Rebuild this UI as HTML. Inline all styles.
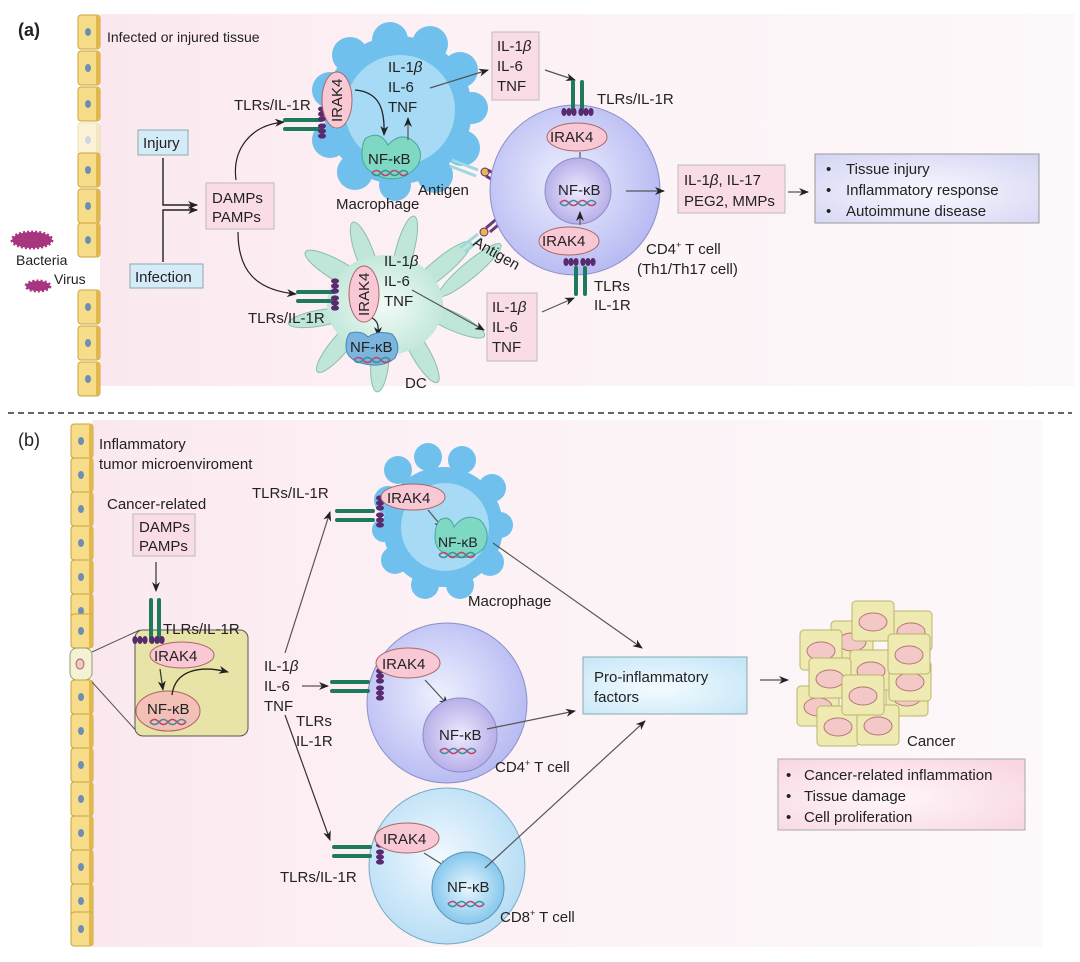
<!DOCTYPE html>
<html><head><meta charset="utf-8"><style>
html,body{margin:0;padding:0;background:#fff}
svg{display:block}
text{font-family:"Liberation Sans",Arial,sans-serif;fill:#222}
</style></head><body>
<svg width="1080" height="962" viewBox="0 0 1080 962" xmlns="http://www.w3.org/2000/svg">
<defs>
<marker id="ah" markerWidth="10" markerHeight="8" refX="9" refY="4" orient="auto" markerUnits="userSpaceOnUse"><path d="M0,0 L10,4 L0,8 L3,4z" fill="#222"/></marker>
<radialGradient id="mac" cx="50%" cy="45%" r="55%"><stop offset="0" stop-color="#e8f6fd"/><stop offset="1" stop-color="#5fb8ea"/></radialGradient>
<radialGradient id="cd4" cx="45%" cy="45%" r="55%"><stop offset="0" stop-color="#eef0ff"/><stop offset="1" stop-color="#b9bcf2"/></radialGradient>
<radialGradient id="cd8" cx="45%" cy="45%" r="55%"><stop offset="0" stop-color="#f2f9ff"/><stop offset="1" stop-color="#b8def5"/></radialGradient>
<radialGradient id="nuc4" cx="50%" cy="50%" r="55%"><stop offset="0" stop-color="#eeeaff"/><stop offset="1" stop-color="#b3a9e6"/></radialGradient>
<radialGradient id="nuc8" cx="50%" cy="50%" r="55%"><stop offset="0" stop-color="#e9f6ff"/><stop offset="1" stop-color="#7cc3ea"/></radialGradient>
<radialGradient id="dc" cx="50%" cy="50%" r="55%"><stop offset="0" stop-color="#f2fbf7"/><stop offset="1" stop-color="#bfe6d8"/></radialGradient>
<linearGradient id="pinkbg" x1="0" x2="1"><stop offset="0" stop-color="#fbe8ef"/><stop offset="0.35" stop-color="#fcf1f5"/><stop offset="1" stop-color="#fdf8fa"/></linearGradient>
<radialGradient id="pinkbox" cx="45%" cy="55%" r="70%"><stop offset="0" stop-color="#fff7fa"/><stop offset="1" stop-color="#f8d6e2"/></radialGradient>
<radialGradient id="bluebox" cx="45%" cy="55%" r="70%"><stop offset="0" stop-color="#f5fbff"/><stop offset="1" stop-color="#c5e6f7"/></radialGradient>
<radialGradient id="lavbox" cx="50%" cy="55%" r="70%"><stop offset="0" stop-color="#f8f8ff"/><stop offset="1" stop-color="#d5d6f3"/></radialGradient>
<g id="ecell"><rect x="0" y="0" width="22" height="34" rx="3" fill="#f7dc8a" stroke="#c9a43c" stroke-width="1"/><rect x="18" y="1" width="4" height="32" fill="#e2b84c"/><ellipse cx="10" cy="17" rx="3" ry="4" fill="#6d8fb3"/></g>
<g id="rh"><rect x="0" y="0" width="40" height="4" rx="2" fill="#1e7a5c"/><rect x="0" y="9" width="40" height="4" rx="2" fill="#1e7a5c"/></g>
<g id="dotsv"><ellipse cx="0" cy="0" rx="4" ry="2.6" fill="#5a2a6e"/><ellipse cx="0" cy="5" rx="4" ry="2.6" fill="#5a2a6e"/><ellipse cx="0" cy="10" rx="4" ry="2.6" fill="#5a2a6e"/><ellipse cx="0" cy="17" rx="4" ry="2.6" fill="#5a2a6e"/><ellipse cx="0" cy="22" rx="4" ry="2.6" fill="#5a2a6e"/><ellipse cx="0" cy="27" rx="4" ry="2.6" fill="#5a2a6e"/></g>
<g id="dotsh"><ellipse cx="0" cy="0" ry="4" rx="2.6" fill="#5a2a6e"/><ellipse cx="5" cy="0" ry="4" rx="2.6" fill="#5a2a6e"/><ellipse cx="10" cy="0" ry="4" rx="2.6" fill="#5a2a6e"/><ellipse cx="17" cy="0" ry="4" rx="2.6" fill="#5a2a6e"/><ellipse cx="22" cy="0" ry="4" rx="2.6" fill="#5a2a6e"/><ellipse cx="27" cy="0" ry="4" rx="2.6" fill="#5a2a6e"/></g>
<g id="dna"><path d="M-18,0 q4.5,-5 9,0 t9,0 t9,0 t9,0" fill="none" stroke="#c2406a" stroke-width="1.6"/><path d="M-18,0 q4.5,5 9,0 t9,0 t9,0 t9,0" fill="none" stroke="#3a8f9a" stroke-width="1.6"/></g>
<g id="ccell"><rect x="0" y="0" width="42" height="40" rx="4" fill="#eeeab2" stroke="#b9b46c"/><ellipse cx="21" cy="21" rx="14" ry="9" fill="#f4c8c6" stroke="#b57876"/></g>
</defs>

<rect x="100" y="14" width="975" height="372" fill="url(#pinkbg)"/>
<rect x="92" y="420" width="950" height="527" fill="url(#pinkbg)"/>
<line x1="8" y1="413" x2="1072" y2="413" stroke="#333" stroke-width="1.6" stroke-dasharray="6,4"/>

<use href="#ecell" x="78" y="15"/><use href="#ecell" x="78" y="51"/><use href="#ecell" x="78" y="87"/>
<g opacity="0.35"><use href="#ecell" x="78" y="123"/></g>
<use href="#ecell" x="78" y="153"/><use href="#ecell" x="78" y="189"/><use href="#ecell" x="78" y="223"/>
<use href="#ecell" x="78" y="290"/><use href="#ecell" x="78" y="326"/><use href="#ecell" x="78" y="362"/>

<text x="18" y="36" font-size="18" font-weight="bold">(a)</text>
<text x="107" y="42" font-size="14">Infected or injured tissue</text>

<ellipse cx="32" cy="240" rx="20" ry="8" fill="#a8357f" stroke="#a8357f" stroke-width="3" stroke-dasharray="2,2"/>
<ellipse cx="38" cy="286" rx="12" ry="5" fill="#a8357f" stroke="#a8357f" stroke-width="3" stroke-dasharray="2,2"/>
<text x="16" y="265" font-size="14">Bacteria</text>
<text x="54" y="284" font-size="14">Virus</text>

<rect x="138" y="130" width="50" height="25" fill="#d5ecf8" stroke="#8aa"/><text x="143" y="148" font-size="15">Injury</text>
<rect x="130" y="264" width="73" height="24" fill="#d5ecf8" stroke="#8aa"/><text x="135" y="282" font-size="15">Infection</text>
<path d="M163,158 V205 H197" fill="none" stroke="#222" stroke-width="1.4" marker-end="url(#ah)"/>
<path d="M163,262 V210 H197" fill="none" stroke="#222" stroke-width="1.4" marker-end="url(#ah)"/>
<rect x="206" y="183" width="68" height="46" fill="#f9dce6" stroke="#bbb"/>
<text x="212" y="203" font-size="15">DAMPs</text><text x="212" y="222" font-size="15">PAMPs</text>
<path d="M236,180 C232,150 250,125 284,122" fill="none" stroke="#222" stroke-width="1.2" marker-end="url(#ah)"/>
<path d="M238,232 C238,270 255,290 296,294" fill="none" stroke="#222" stroke-width="1.2" marker-end="url(#ah)"/>

<g>
<circle cx="398" cy="110" r="74" fill="#6fc0ec"/>
<circle cx="330" cy="90" r="18" fill="#6fc0ec"/><circle cx="350" cy="55" r="18" fill="#6fc0ec"/><circle cx="390" cy="40" r="18" fill="#6fc0ec"/><circle cx="430" cy="44" r="18" fill="#6fc0ec"/><circle cx="460" cy="70" r="18" fill="#6fc0ec"/><circle cx="472" cy="108" r="16" fill="#6fc0ec"/><circle cx="462" cy="148" r="18" fill="#6fc0ec"/><circle cx="435" cy="175" r="18" fill="#6fc0ec"/><circle cx="395" cy="185" r="16" fill="#6fc0ec"/><circle cx="355" cy="172" r="18" fill="#6fc0ec"/><circle cx="330" cy="140" r="18" fill="#6fc0ec"/>
<circle cx="400" cy="110" r="55" fill="#bfe6f8" opacity="0.7"/>
</g>
<use href="#rh" x="283" y="118"/><use href="#dotsv" x="322" y="109"/>
<text x="234" y="110" font-size="15">TLRs/IL-1R</text>
<ellipse cx="337" cy="100" rx="15" ry="28" fill="#f8c9d4" stroke="#a66"/>
<text x="0" y="0" font-size="15" transform="translate(342,122) rotate(-90)">IRAK4</text>
<path d="M355,90 C380,92 385,110 384,135" fill="none" stroke="#222" stroke-width="1.3" marker-end="url(#ah)"/>
<path d="M366,138 Q380,130 388,145 Q400,132 412,140 Q425,150 418,165 Q405,182 385,178 Q362,172 362,155 Q362,142 366,138z" fill="#7fd8c4" stroke="#4a9"/>
<text x="368" y="164" font-size="15">NF-κB</text><use href="#dna" x="390" y="173"/>
<line x1="408" y1="140" x2="408" y2="118" stroke="#555" stroke-width="1.2" marker-end="url(#ah)"/>
<text x="388" y="72" font-size="15">IL-1<tspan font-style="italic">β</tspan></text><text x="388" y="92" font-size="15">IL-6</text><text x="388" y="112" font-size="15">TNF</text>
<text x="336" y="209" font-size="15">Macrophage</text>
<line x1="430" y1="88" x2="488" y2="70" stroke="#555" stroke-width="1.2" marker-end="url(#ah)"/>
<rect x="492" y="32" width="47" height="68" fill="#f9dce6" stroke="#bbb"/>
<text x="497" y="51" font-size="15">IL-1<tspan font-style="italic">β</tspan></text><text x="497" y="71" font-size="15">IL-6</text><text x="497" y="91" font-size="15">TNF</text>
<line x1="545" y1="70" x2="575" y2="80" stroke="#555" stroke-width="1.2" marker-end="url(#ah)"/>

<g fill="#bfe6d8" stroke="#8cbfab">
<ellipse cx="340" cy="272" rx="40" ry="10" transform="rotate(30 340 272)"/>
<ellipse cx="365" cy="255" rx="35" ry="9" transform="rotate(70 365 255)"/>
<ellipse cx="405" cy="250" rx="35" ry="9" transform="rotate(-75 405 250)"/>
<ellipse cx="440" cy="268" rx="40" ry="9" transform="rotate(-40 440 268)"/>
<ellipse cx="470" cy="270" rx="40" ry="8" transform="rotate(-40 470 270)"/>
<ellipse cx="450" cy="320" rx="38" ry="9" transform="rotate(25 450 320)"/>
<ellipse cx="420" cy="352" rx="35" ry="9" transform="rotate(60 420 352)"/>
<ellipse cx="380" cy="360" rx="32" ry="9" transform="rotate(95 380 360)"/>
<ellipse cx="340" cy="345" rx="35" ry="9" transform="rotate(-50 340 345)"/>
<ellipse cx="320" cy="318" rx="32" ry="8" transform="rotate(-10 320 318)"/>
</g>
<ellipse cx="385" cy="305" rx="58" ry="50" fill="url(#dc)"/>
<use href="#rh" x="296" y="290"/><use href="#dotsv" x="335" y="281"/>
<text x="248" y="323" font-size="15">TLRs/IL-1R</text>
<ellipse cx="364" cy="294" rx="15" ry="28" fill="#f8c9d4" stroke="#a66"/>
<text x="0" y="0" font-size="15" transform="translate(369,316) rotate(-90)">IRAK4</text>
<path d="M372,318 C380,322 378,330 378,336" fill="none" stroke="#222" stroke-width="1.2" marker-end="url(#ah)"/>
<path d="M350,333 Q362,330 368,337 Q378,330 392,334 Q402,345 395,358 Q383,368 365,364 Q346,360 346,347 Q346,337 350,333z" fill="#7bb5de" stroke="#4787b5"/>
<text x="350" y="352" font-size="15">NF-κB</text><use href="#dna" x="372" y="360"/>
<text x="384" y="266" font-size="15">IL-1<tspan font-style="italic">β</tspan></text><text x="384" y="286" font-size="15">IL-6</text><text x="384" y="306" font-size="15">TNF</text>
<text x="405" y="388" font-size="15">DC</text>
<line x1="412" y1="290" x2="484" y2="330" stroke="#555" stroke-width="1.2" marker-end="url(#ah)"/>
<rect x="487" y="293" width="50" height="68" fill="#f9dce6" stroke="#bbb"/>
<text x="492" y="312" font-size="15">IL-1<tspan font-style="italic">β</tspan></text><text x="492" y="332" font-size="15">IL-6</text><text x="492" y="352" font-size="15">TNF</text>
<line x1="542" y1="312" x2="574" y2="298" stroke="#555" stroke-width="1.2" marker-end="url(#ah)"/>

<g stroke="#9fd9e0" stroke-width="3"><line x1="452" y1="160" x2="478" y2="170"/><line x1="450" y1="166" x2="476" y2="176"/></g>
<circle cx="485" cy="172" r="4" fill="#e8b74d" stroke="#5a2a6e"/>
<g stroke="#6a3a7e" stroke-width="3"><line x1="488" y1="170" x2="508" y2="182"/><line x1="486" y1="176" x2="506" y2="188"/></g>
<text x="418" y="195" font-size="15">Antigen</text>
<g stroke="#9fd9e0" stroke-width="3"><line x1="460" y1="248" x2="478" y2="234"/><line x1="465" y1="252" x2="482" y2="238"/></g>
<circle cx="484" cy="232" r="4" fill="#e8b74d" stroke="#5a2a6e"/>
<g stroke="#6a3a7e" stroke-width="3"><line x1="486" y1="228" x2="500" y2="216"/><line x1="490" y1="232" x2="504" y2="220"/></g>
<text x="0" y="0" font-size="15" transform="translate(472,245) rotate(30)">Antigen</text>

<circle cx="575" cy="190" r="85" fill="url(#cd4)" stroke="#8a8fc8"/>
<rect x="571" y="80" width="4" height="32" rx="2" fill="#1e7a5c"/><rect x="580" y="80" width="4" height="32" rx="2" fill="#1e7a5c"/>
<use href="#dotsh" x="564" y="112"/>
<text x="597" y="104" font-size="15">TLRs/IL-1R</text>
<ellipse cx="577" cy="137" rx="30" ry="14" fill="#f8c9d4" stroke="#a66"/><text x="550" y="142" font-size="15">IRAK4</text>
<line x1="580" y1="152" x2="580" y2="168" stroke="#555" stroke-width="1.2" marker-end="url(#ah)"/>
<circle cx="578" cy="191" r="33" fill="url(#nuc4)" stroke="#8a8fc8"/>
<text x="558" y="195" font-size="15">NF-κB</text><use href="#dna" x="578" y="203"/>
<line x1="580" y1="225" x2="580" y2="212" stroke="#555" stroke-width="1.2" marker-end="url(#ah)"/>
<ellipse cx="569" cy="241" rx="30" ry="14" fill="#f8c9d4" stroke="#a66"/><text x="542" y="246" font-size="15">IRAK4</text>
<use href="#dotsh" x="566" y="262"/>
<rect x="574" y="266" width="4" height="30" rx="2" fill="#1e7a5c"/><rect x="583" y="266" width="4" height="30" rx="2" fill="#1e7a5c"/>
<text x="594" y="291" font-size="15">TLRs</text><text x="594" y="310" font-size="15">IL-1R</text>
<text x="646" y="254" font-size="15">CD4<tspan font-size="9" dy="-6">+</tspan><tspan dy="6"> T cell</tspan></text>
<text x="637" y="274" font-size="15">(Th1/Th17 cell)</text>
<line x1="626" y1="191" x2="664" y2="191" stroke="#555" stroke-width="1.2" marker-end="url(#ah)"/>
<rect x="678" y="165" width="107" height="48" fill="#f9dce6" stroke="#bbb"/>
<text x="684" y="185" font-size="15">IL-1<tspan font-style="italic">β</tspan>, IL-17</text><text x="684" y="206" font-size="15">PEG2, MMPs</text>
<line x1="788" y1="192" x2="808" y2="192" stroke="#555" stroke-width="1.2" marker-end="url(#ah)"/>
<rect x="815" y="154" width="224" height="69" fill="url(#lavbox)" stroke="#999"/>
<text x="826" y="174" font-size="15">•</text><text x="846" y="174" font-size="15">Tissue injury</text>
<text x="826" y="195" font-size="15">•</text><text x="846" y="195" font-size="15">Inflammatory response</text>
<text x="826" y="216" font-size="15">•</text><text x="846" y="216" font-size="15">Autoimmune disease</text>

<text x="18" y="446" font-size="18">(b)</text>
<use href="#ecell" x="71" y="424"/><use href="#ecell" x="71" y="458"/><use href="#ecell" x="71" y="492"/><use href="#ecell" x="71" y="526"/><use href="#ecell" x="71" y="560"/><use href="#ecell" x="71" y="594"/><use href="#ecell" x="71" y="614"/>
<rect x="70" y="648" width="22" height="32" rx="7" fill="#f4f2d4" stroke="#9a9a6a"/><ellipse cx="80" cy="664" rx="4" ry="5" fill="#f2c7c7" stroke="#a66"/>
<use href="#ecell" x="71" y="680"/><use href="#ecell" x="71" y="714"/><use href="#ecell" x="71" y="748"/><use href="#ecell" x="71" y="782"/><use href="#ecell" x="71" y="816"/><use href="#ecell" x="71" y="850"/><use href="#ecell" x="71" y="884"/><use href="#ecell" x="71" y="912"/>
<text x="99" y="449" font-size="15">Inflammatory</text><text x="99" y="469" font-size="15">tumor microenviroment</text>
<text x="107" y="509" font-size="15">Cancer-related</text>
<rect x="133" y="514" width="62" height="42" fill="#f9dce6" stroke="#bbb"/>
<text x="139" y="532" font-size="15">DAMPs</text><text x="139" y="551" font-size="15">PAMPs</text>
<line x1="156" y1="562" x2="156" y2="591" stroke="#333" stroke-width="1.2" marker-end="url(#ah)"/>
<line x1="92" y1="652" x2="140" y2="630" stroke="#555"/><line x1="92" y1="682" x2="140" y2="735" stroke="#555"/>
<rect x="135" y="630" width="113" height="106" rx="8" fill="#e8e4a8" stroke="#555"/>
<rect x="149" y="598" width="4" height="45" rx="2" fill="#1e7a5c"/><rect x="157" y="598" width="4" height="45" rx="2" fill="#1e7a5c"/>
<use href="#dotsh" x="135" y="640"/>
<text x="163" y="634" font-size="15">TLRs/IL-1R</text>
<ellipse cx="182" cy="655" rx="32" ry="13" fill="#f8c9d4" stroke="#a66"/><text x="154" y="661" font-size="15">IRAK4</text>
<line x1="160" y1="669" x2="163" y2="690" stroke="#333" stroke-width="1.2" marker-end="url(#ah)"/>
<ellipse cx="168" cy="711" rx="32" ry="20" fill="#f2c0b6" stroke="#a66"/>
<text x="147" y="714" font-size="15">NF-κB</text><use href="#dna" x="168" y="722"/>
<path d="M172,695 C175,670 200,665 228,672" fill="none" stroke="#222" stroke-width="1.3" marker-end="url(#ah)"/>
<text x="264" y="671" font-size="15">IL-1<tspan font-style="italic">β</tspan></text><text x="264" y="691" font-size="15">IL-6</text><text x="264" y="711" font-size="15">TNF</text>
<line x1="285" y1="653" x2="330" y2="512" stroke="#555" stroke-width="1.2" marker-end="url(#ah)"/>
<line x1="302" y1="686" x2="328" y2="686" stroke="#555" stroke-width="1.2" marker-end="url(#ah)"/>
<line x1="285" y1="715" x2="330" y2="840" stroke="#333" stroke-width="1.2" marker-end="url(#ah)"/>

<g fill="#6fc0ec">
<circle cx="443" cy="527" r="60"/>
<circle cx="388" cy="500" r="14"/><circle cx="398" cy="470" r="14"/><circle cx="428" cy="457" r="14"/><circle cx="462" cy="460" r="14"/><circle cx="492" cy="488" r="14"/><circle cx="500" cy="525" r="13"/><circle cx="490" cy="562" r="14"/><circle cx="460" cy="585" r="14"/><circle cx="425" cy="585" r="14"/><circle cx="395" cy="560" r="14"/><circle cx="384" cy="530" r="12"/>
</g>
<circle cx="445" cy="527" r="44" fill="#bfe6f8" opacity="0.7"/>
<use href="#rh" x="335" y="509"/><use href="#dotsv" x="380" y="498"/>
<text x="252" y="498" font-size="15">TLRs/IL-1R</text>
<ellipse cx="413" cy="497" rx="32" ry="13" fill="#f8c9d4" stroke="#a66"/><text x="387" y="503" font-size="15">IRAK4</text>
<line x1="428" y1="510" x2="443" y2="528" stroke="#555" stroke-width="1.2" marker-end="url(#ah)"/>
<path d="M440,520 Q450,514 454,527 Q465,512 480,520 Q492,532 484,548 Q472,560 455,557 Q435,553 435,538 Q435,525 440,520z" fill="#7fd8c4" stroke="#4a9"/>
<text x="438" y="547" font-size="14">NF-κB</text><use href="#dna" x="457" y="555"/>
<text x="468" y="606" font-size="15">Macrophage</text>

<!-- CD4 (b) -->
<circle cx="447" cy="703" r="80" fill="url(#cd4)" stroke="#8a8fc8"/>
<use href="#rh" x="330" y="680"/><use href="#dotsv" x="380" y="671"/>
<text x="296" y="726" font-size="15">TLRs</text><text x="296" y="746" font-size="15">IL-1R</text>
<ellipse cx="408" cy="663" rx="32" ry="15" fill="#f8c9d4" stroke="#a66"/><text x="382" y="669" font-size="15">IRAK4</text>
<line x1="425" y1="680" x2="448" y2="705" stroke="#555" stroke-width="1.2" marker-end="url(#ah)"/>
<circle cx="460" cy="735" r="37" fill="url(#nuc4)" stroke="#8a8fc8"/>
<text x="439" y="740" font-size="15">NF-κB</text><use href="#dna" x="458" y="751"/>
<text x="495" y="772" font-size="15">CD4<tspan font-size="9" dy="-6">+</tspan><tspan dy="6"> T cell</tspan></text>

<!-- CD8 (b) -->
<circle cx="447" cy="866" r="78" fill="url(#cd8)" stroke="#7aa9c8"/>
<use href="#rh" x="332" y="845"/><use href="#dotsv" x="380" y="835"/>
<text x="280" y="882" font-size="15">TLRs/IL-1R</text>
<ellipse cx="407" cy="838" rx="32" ry="15" fill="#f8c9d4" stroke="#a66"/><text x="383" y="844" font-size="15">IRAK4</text>
<line x1="424" y1="853" x2="448" y2="868" stroke="#555" stroke-width="1.2" marker-end="url(#ah)"/>
<circle cx="468" cy="888" r="36" fill="url(#nuc8)" stroke="#5f8fb5"/>
<text x="447" y="892" font-size="15">NF-κB</text><use href="#dna" x="466" y="904"/>
<text x="500" y="922" font-size="15">CD8<tspan font-size="9" dy="-6">+</tspan><tspan dy="6"> T cell</tspan></text>

<line x1="493" y1="543" x2="642" y2="648" stroke="#555" stroke-width="1.2" marker-end="url(#ah)"/>
<line x1="487" y1="729" x2="575" y2="711" stroke="#555" stroke-width="1.2" marker-end="url(#ah)"/>
<line x1="485" y1="868" x2="645" y2="721" stroke="#555" stroke-width="1.2" marker-end="url(#ah)"/>
<rect x="583" y="657" width="164" height="57" fill="url(#bluebox)" stroke="#8aa"/>
<text x="594" y="682" font-size="15">Pro-inflammatory</text><text x="594" y="702" font-size="15">factors</text>
<line x1="760" y1="680" x2="788" y2="680" stroke="#555" stroke-width="1.2" marker-end="url(#ah)"/>

<use href="#ccell" x="831" y="621"/><use href="#ccell" x="890" y="611"/><use href="#ccell" x="800" y="630"/>
<use href="#ccell" x="797" y="686"/><use href="#ccell" x="886" y="676"/><use href="#ccell" x="850" y="650"/>
<use href="#ccell" x="889" y="661"/><use href="#ccell" x="809" y="658"/><use href="#ccell" x="852" y="601"/>
<use href="#ccell" x="888" y="634"/><use href="#ccell" x="817" y="706"/><use href="#ccell" x="857" y="705"/>
<use href="#ccell" x="842" y="675"/>
<text x="907" y="746" font-size="15">Cancer</text>
<rect x="778" y="759" width="247" height="71" fill="url(#pinkbox)" stroke="#aaa"/>
<text x="786" y="780" font-size="15">•</text><text x="804" y="780" font-size="15">Cancer-related inflammation</text>
<text x="786" y="801" font-size="15">•</text><text x="804" y="801" font-size="15">Tissue damage</text>
<text x="786" y="822" font-size="15">•</text><text x="804" y="822" font-size="15">Cell proliferation</text>
</svg>
</body></html>
